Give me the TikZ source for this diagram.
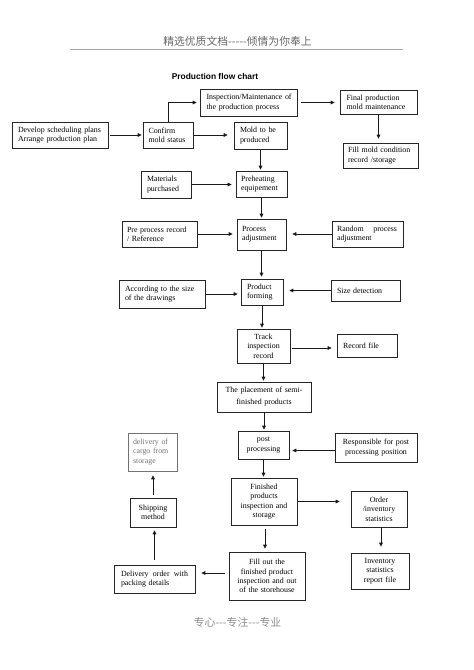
\documentclass[tikz,border=0pt]{standalone}
\usepackage{fontspec}
\setmainfont{Liberation Serif}
\newfontfamily\titlefont{Liberation Sans}
\newfontfamily\cjkfont{Noto Sans CJK SC}
\usetikzlibrary{arrows.meta}
\begin{document}
\begin{tikzpicture}[x=1pt,y=-1pt,
  bx/.style={draw=black!85, line width=0.6pt, inner sep=0pt, font=\fontsize{7.9}{9.4}\selectfont},
  lbx/.style={bx, align=left},
  cbx/.style={bx, align=center},
  arr/.style={-{Triangle[length=4pt,width=3.6pt]}, line width=0.8pt, draw=black!90},
  hdr/.style={inner sep=0pt, font=\cjkfont\fontsize{10.8}{12}\selectfont, text=black!60}
]
\useasboundingbox (0,0) rectangle (474,670);
% header and footer
\node[hdr] (head) at (237.5,41) {精选优质文档-----倾情为你奉上};
\coordinate (hl) at (70,49);
\coordinate (hr) at (403,49);
\draw[black!35, line width=0.6pt] (hl) -- (hr);
\node[inner sep=0pt, font=\titlefont\bfseries\fontsize{8.4}{10}\selectfont] (title) at (215,76) {Production flow chart};
\node[hdr, text=black!45] (foot) at (237.5,622) {专心---专注---专业};

% boxes
\node[lbx, minimum width=97pt, minimum height=27pt, text width=84pt] (insp) at (248.5,102.5) {\mbox{Inspection/Maintenance of}\\the production process};
\node[lbx, minimum width=77pt, minimum height=24pt, text width=64pt] (final) at (378.5,102) {Final production\\mold maintenance};
\node[lbx, minimum width=96pt, minimum height=26pt, text width=84pt] (dev) at (60,135) {Develop scheduling plans\\Arrange production plan};
\node[lbx, minimum width=50pt, minimum height=26pt, text width=39pt] (conf) at (168,135) {Confirm\\mold status};
\node[lbx, minimum width=53pt, minimum height=27pt, text width=41pt] (mold) at (260.5,135.5) {Mold to be\\produced};
\node[lbx, minimum width=75pt, minimum height=25pt, text width=65pt] (fillm) at (380.5,155.5) {Fill mold condition\\record /storage};
\node[lbx, minimum width=50pt, minimum height=27pt, text width=38pt] (mat) at (166,184.5) {Materials\\purchased};
\node[lbx, minimum width=51pt, minimum height=26pt, text width=41pt] (preh) at (261.5,184) {Preheating\\equipement};
\node[lbx, minimum width=75pt, minimum height=26pt, text width=65pt] (pre) at (159.5,234) {Pre process record\\/ Reference};
\node[lbx, minimum width=49pt, minimum height=31pt, text width=39pt] (padj) at (261.5,234.5) {Process\\adjustment};
\node[lbx, minimum width=71pt, minimum height=26pt, text width=61pt] (rand) at (367.5,234) {\hbox to 60pt{Random\hfill process}\\adjustment};
\node[lbx, minimum width=86pt, minimum height=28pt, text width=74pt] (acc) at (162,294) {According to the size\\of the drawings};
\node[lbx, minimum width=42pt, minimum height=26pt, text width=30pt] (prod) at (262,292) {Product\\forming};
\node[lbx, minimum width=69pt, minimum height=21pt, text width=57pt] (size) at (365.5,290.5) {Size detection};
\node[cbx, minimum width=53pt, minimum height=34pt, text width=45pt] (track) at (263.5,346) {Track\\inspection\\record};
\node[lbx, minimum width=60pt, minimum height=23pt, text width=48pt] (rec) at (367,345.5) {Record file};
\node[cbx, minimum width=94pt, minimum height=30pt, text width=86pt, font=\fontsize{7.9}{12}\selectfont] (place) at (264,397) {The placement of semi-\\finished products};
\node[cbx, minimum width=51pt, minimum height=28pt, text width=45pt] (post) at (263.5,445) {post\\processing};
\node[cbx, minimum width=82pt, minimum height=29pt, text width=76pt] (resp) at (376,447.5) {Responsible for post\\processing position};
\node[lbx, minimum width=49pt, minimum height=38pt, text width=39pt, draw=black!55, text=black!55] (cargo) at (152.5,452) {delivery of\\cargo from\\storage};
\node[cbx, minimum width=66pt, minimum height=47pt, text width=60pt] (fin) at (264,501.5) {Finished\\products\\inspection and\\storage};
\node[cbx, minimum width=46pt, minimum height=29pt, text width=40pt] (ship) at (153,512.5) {Shipping\\method};
\node[cbx, minimum width=56pt, minimum height=36pt, text width=50pt] (order) at (379,509) {Order\\/inventory\\statistics};
\node[cbx, minimum width=76pt, minimum height=48pt, text width=70pt] (fillo) at (267,576) {Fill out the\\finished product\\inspection and out\\of the storehouse};
\node[lbx, minimum width=81pt, minimum height=28pt, text width=67pt] (deliv) at (154.5,579) {\hbox to 67pt{Delivery\hfill order\hfill with}\\packing details};
\node[cbx, minimum width=58pt, minimum height=36pt, text width=52pt] (inv) at (380,571) {Inventory\\statistics\\report file};

% connectors
\draw[arr, shorten <=2pt, shorten >=1pt] (dev.east) -- (conf.west);
\draw[arr, shorten <=1pt, shorten >=6pt] (conf.east) -- (conf.east -| mold.west);
\draw[arr, shorten >=3pt] (conf.north) |- (insp.west);
\draw[arr, shorten <=4pt, shorten >=5pt] (insp.east) -- (insp.east -| final.west);
\draw[arr, shorten >=4pt] (final.south) -- (final.south |- fillm.north);
\draw[arr, shorten >=1pt] (mold.south) -- (mold.south |- preh.north);
\draw[arr, shorten <=1pt, shorten >=4pt] (mat.east) -- (mat.east -| preh.west);
\draw[arr, shorten >=1pt] (preh.south) -- (preh.south |- padj.north);
\draw[arr, shorten <=1pt, shorten >=4pt] (pre.east) -- (pre.east -| padj.west);
\draw[arr, shorten >=6pt] (rand.west) -- (rand.west -| padj.east);
\draw[arr, shorten >=2pt] (padj.south) -- (padj.south |- prod.north);
\draw[arr, shorten >=3pt] (acc.east) -- (acc.east -| prod.west);
\draw[arr, shorten >=6pt] (size.west) -- (size.west -| prod.east);
\draw[arr, shorten >=1pt] (prod.south) -- (prod.south |- track.north);
\draw[arr, shorten <=2pt, shorten >=5pt] ([yshift=-2pt]track.east) -- ([yshift=-2pt]track.east -| rec.west);
\draw[arr, shorten >=1pt] (track.south) -- (track.south |- place.north);
\draw[arr, shorten >=1pt] (place.south) -- (place.south |- post.north);
\draw[arr, shorten >=3pt] ([yshift=-3pt]resp.west) -- ([yshift=-3pt]resp.west -| post.east);
\draw[arr, shorten >=1pt] (post.south) -- (post.south |- fin.north);
\draw[arr, shorten >=11pt] (fin.east) -- (fin.east -| order.west);
\draw[arr, shorten <=4pt, shorten >=3pt] ([xshift=1pt]fin.south) -- ([xshift=1pt]fin.south |- fillo.north);
\draw[arr, shorten <=1pt, shorten >=6pt] ([xshift=2pt]order.south) -- ([xshift=2pt]order.south |- inv.north);
\draw[arr, shorten <=4pt, shorten >=6pt] ([yshift=3pt]fillo.west) -- ([yshift=3pt]fillo.west -| deliv.east);
\draw[arr, shorten <=5pt, shorten >=3pt] (deliv.north) -- (deliv.north |- ship.south);
\draw[arr, shorten <=3pt, shorten >=4pt] (ship.north) -- (ship.north |- cargo.south);
\end{tikzpicture}
\end{document}
